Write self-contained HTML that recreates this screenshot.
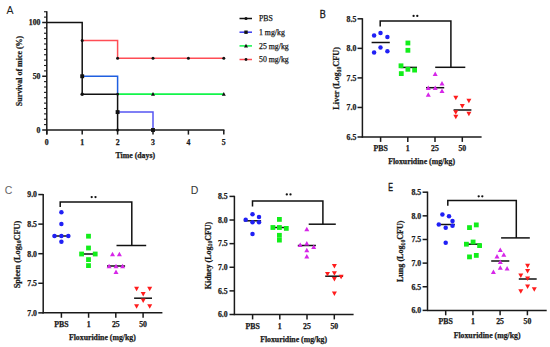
<!DOCTYPE html>
<html><head><meta charset="utf-8"><title>Figure</title>
<style>
html,body{margin:0;padding:0;background:#fff;}
body{width:550px;height:347px;overflow:hidden;font-family:"Liberation Serif",serif;}
svg{display:block;}
</style></head>
<body>
<svg width="550" height="347" viewBox="0 0 550 347">
<rect width="550" height="347" fill="#ffffff"/>
<text x="6.6" y="13.8" font-family="Liberation Sans, sans-serif" font-size="10.5" font-weight="normal" text-anchor="start" fill="#222" >A</text>
<line x1="46.8" y1="11.21" x2="46.8" y2="134.6" stroke="#1a1a1a" stroke-width="1.5" stroke-linecap="butt"/>
<line x1="42.2" y1="130" x2="46.8" y2="130" stroke="#1a1a1a" stroke-width="1.5" stroke-linecap="butt"/>
<line x1="44" y1="124.62" x2="46.8" y2="124.62" stroke="#1a1a1a" stroke-width="1.1" stroke-linecap="butt"/>
<line x1="44" y1="119.25" x2="46.8" y2="119.25" stroke="#1a1a1a" stroke-width="1.1" stroke-linecap="butt"/>
<line x1="44" y1="113.88" x2="46.8" y2="113.88" stroke="#1a1a1a" stroke-width="1.1" stroke-linecap="butt"/>
<line x1="44" y1="108.5" x2="46.8" y2="108.5" stroke="#1a1a1a" stroke-width="1.1" stroke-linecap="butt"/>
<line x1="44" y1="103.12" x2="46.8" y2="103.12" stroke="#1a1a1a" stroke-width="1.1" stroke-linecap="butt"/>
<line x1="44" y1="97.75" x2="46.8" y2="97.75" stroke="#1a1a1a" stroke-width="1.1" stroke-linecap="butt"/>
<line x1="44" y1="92.38" x2="46.8" y2="92.38" stroke="#1a1a1a" stroke-width="1.1" stroke-linecap="butt"/>
<line x1="44" y1="87" x2="46.8" y2="87" stroke="#1a1a1a" stroke-width="1.1" stroke-linecap="butt"/>
<line x1="44" y1="81.62" x2="46.8" y2="81.62" stroke="#1a1a1a" stroke-width="1.1" stroke-linecap="butt"/>
<line x1="42.2" y1="76.25" x2="46.8" y2="76.25" stroke="#1a1a1a" stroke-width="1.5" stroke-linecap="butt"/>
<line x1="44" y1="70.88" x2="46.8" y2="70.88" stroke="#1a1a1a" stroke-width="1.1" stroke-linecap="butt"/>
<line x1="44" y1="65.5" x2="46.8" y2="65.5" stroke="#1a1a1a" stroke-width="1.1" stroke-linecap="butt"/>
<line x1="44" y1="60.12" x2="46.8" y2="60.12" stroke="#1a1a1a" stroke-width="1.1" stroke-linecap="butt"/>
<line x1="44" y1="54.75" x2="46.8" y2="54.75" stroke="#1a1a1a" stroke-width="1.1" stroke-linecap="butt"/>
<line x1="44" y1="49.38" x2="46.8" y2="49.38" stroke="#1a1a1a" stroke-width="1.1" stroke-linecap="butt"/>
<line x1="44" y1="44" x2="46.8" y2="44" stroke="#1a1a1a" stroke-width="1.1" stroke-linecap="butt"/>
<line x1="44" y1="38.62" x2="46.8" y2="38.62" stroke="#1a1a1a" stroke-width="1.1" stroke-linecap="butt"/>
<line x1="44" y1="33.25" x2="46.8" y2="33.25" stroke="#1a1a1a" stroke-width="1.1" stroke-linecap="butt"/>
<line x1="44" y1="27.88" x2="46.8" y2="27.88" stroke="#1a1a1a" stroke-width="1.1" stroke-linecap="butt"/>
<line x1="42.2" y1="22.5" x2="46.8" y2="22.5" stroke="#1a1a1a" stroke-width="1.5" stroke-linecap="butt"/>
<line x1="44" y1="17.12" x2="46.8" y2="17.12" stroke="#1a1a1a" stroke-width="1.1" stroke-linecap="butt"/>
<line x1="44" y1="11.75" x2="46.8" y2="11.75" stroke="#1a1a1a" stroke-width="1.1" stroke-linecap="butt"/>
<line x1="46.8" y1="130" x2="224.4" y2="130" stroke="#1a1a1a" stroke-width="1.5" stroke-linecap="butt"/>
<line x1="46.8" y1="130" x2="46.8" y2="134.6" stroke="#1a1a1a" stroke-width="1.5" stroke-linecap="butt"/>
<text x="46.8" y="144.6" font-family="Liberation Serif, serif" font-size="7.8" font-weight="bold" text-anchor="middle" fill="#1a1a1a" stroke="#1a1a1a" stroke-width="0.25" >0</text>
<line x1="82.2" y1="130" x2="82.2" y2="134.6" stroke="#1a1a1a" stroke-width="1.5" stroke-linecap="butt"/>
<text x="82.2" y="144.6" font-family="Liberation Serif, serif" font-size="7.8" font-weight="bold" text-anchor="middle" fill="#1a1a1a" stroke="#1a1a1a" stroke-width="0.25" >1</text>
<line x1="117.6" y1="130" x2="117.6" y2="134.6" stroke="#1a1a1a" stroke-width="1.5" stroke-linecap="butt"/>
<text x="117.6" y="144.6" font-family="Liberation Serif, serif" font-size="7.8" font-weight="bold" text-anchor="middle" fill="#1a1a1a" stroke="#1a1a1a" stroke-width="0.25" >2</text>
<line x1="153" y1="130" x2="153" y2="134.6" stroke="#1a1a1a" stroke-width="1.5" stroke-linecap="butt"/>
<text x="153" y="144.6" font-family="Liberation Serif, serif" font-size="7.8" font-weight="bold" text-anchor="middle" fill="#1a1a1a" stroke="#1a1a1a" stroke-width="0.25" >3</text>
<line x1="188.4" y1="130" x2="188.4" y2="134.6" stroke="#1a1a1a" stroke-width="1.5" stroke-linecap="butt"/>
<text x="188.4" y="144.6" font-family="Liberation Serif, serif" font-size="7.8" font-weight="bold" text-anchor="middle" fill="#1a1a1a" stroke="#1a1a1a" stroke-width="0.25" >4</text>
<line x1="223.8" y1="130" x2="223.8" y2="134.6" stroke="#1a1a1a" stroke-width="1.5" stroke-linecap="butt"/>
<text x="223.8" y="144.6" font-family="Liberation Serif, serif" font-size="7.8" font-weight="bold" text-anchor="middle" fill="#1a1a1a" stroke="#1a1a1a" stroke-width="0.25" >5</text>
<text x="40.5" y="132.8" font-family="Liberation Serif, serif" font-size="7.8" font-weight="bold" text-anchor="end" fill="#1a1a1a" stroke="#1a1a1a" stroke-width="0.25" >0</text>
<text x="40.5" y="79.05" font-family="Liberation Serif, serif" font-size="7.8" font-weight="bold" text-anchor="end" fill="#1a1a1a" stroke="#1a1a1a" stroke-width="0.25" >50</text>
<text x="40.5" y="25.3" font-family="Liberation Serif, serif" font-size="7.8" font-weight="bold" text-anchor="end" fill="#1a1a1a" stroke="#1a1a1a" stroke-width="0.25" >100</text>
<text x="22.3" y="71" font-family="Liberation Serif, serif" font-size="7.95" font-weight="bold" text-anchor="middle" fill="#1a1a1a" stroke="#1a1a1a" stroke-width="0.25" transform="rotate(-90 22.3 71.0)">Survival of mice (%)</text>
<text x="135.3" y="157.6" font-family="Liberation Serif, serif" font-size="7.8" font-weight="bold" text-anchor="middle" fill="#1a1a1a" stroke="#1a1a1a" stroke-width="0.25" >Time (days)</text>
<polyline points="82.2,40.42 117.6,40.42 117.6,58.33 223.8,58.33" fill="none" stroke="#ff4d55" stroke-width="1.5" stroke-linejoin="miter"/>
<polyline points="117.6,94.17 223.8,94.17" fill="none" stroke="#12f54a" stroke-width="1.6" stroke-linejoin="miter"/>
<polyline points="117.6,112.08 153,112.08 153,130" fill="none" stroke="#5555f2" stroke-width="1.5" stroke-linejoin="miter"/>
<polyline points="82.2,76.25 117.6,76.25 117.6,94.17" fill="none" stroke="#1f5fe0" stroke-width="1.5" stroke-linejoin="miter"/>
<polyline points="46.8,22.5 82.2,22.5 82.2,94.17 117.6,94.17 117.6,130" fill="none" stroke="#111" stroke-width="1.5" stroke-linejoin="miter"/>
<circle cx="82.2" cy="40.42" r="1.5" fill="#111"/>
<circle cx="117.6" cy="58.33" r="1.5" fill="#111"/>
<circle cx="153" cy="58.33" r="1.5" fill="#111"/>
<circle cx="188.4" cy="58.33" r="1.5" fill="#111"/>
<circle cx="223.8" cy="58.33" r="1.5" fill="#111"/>
<rect x="80.25" y="74.3" width="3.9" height="3.9" fill="#111"/>
<rect x="115.65" y="110.13" width="3.9" height="3.9" fill="#111"/>
<rect x="151.05" y="128.05" width="3.9" height="3.9" fill="#111"/>
<circle cx="82.2" cy="94.17" r="1.75" fill="#111"/>
<circle cx="117.6" cy="130" r="1.6" fill="#111"/>
<circle cx="117.6" cy="94.17" r="1.3" fill="#111"/>
<polygon points="151,95.67 155,95.67 153,92.07" fill="#111"/>
<polygon points="221.8,95.67 225.8,95.67 223.8,92.07" fill="#111"/>
<line x1="239.5" y1="18.5" x2="252" y2="18.5" stroke="#111" stroke-width="1.5" stroke-linecap="butt"/>
<text x="259" y="21.1" font-family="Liberation Serif, serif" font-size="7.8" font-weight="normal" text-anchor="start" fill="#1a1a1a" stroke="#1a1a1a" stroke-width="0.25" >PBS</text>
<line x1="239.5" y1="32.2" x2="252" y2="32.2" stroke="#3a3af0" stroke-width="1.5" stroke-linecap="butt"/>
<text x="259" y="34.8" font-family="Liberation Serif, serif" font-size="7.8" font-weight="normal" text-anchor="start" fill="#1a1a1a" stroke="#1a1a1a" stroke-width="0.25" >1 mg/kg</text>
<line x1="239.5" y1="45.9" x2="252" y2="45.9" stroke="#12f54a" stroke-width="1.5" stroke-linecap="butt"/>
<text x="259" y="48.5" font-family="Liberation Serif, serif" font-size="7.8" font-weight="normal" text-anchor="start" fill="#1a1a1a" stroke="#1a1a1a" stroke-width="0.25" >25 mg/kg</text>
<line x1="239.5" y1="59.5" x2="252" y2="59.5" stroke="#ff4d55" stroke-width="1.5" stroke-linecap="butt"/>
<text x="259" y="62.1" font-family="Liberation Serif, serif" font-size="7.8" font-weight="normal" text-anchor="start" fill="#1a1a1a" stroke="#1a1a1a" stroke-width="0.25" >50 mg/kg</text>
<circle cx="246" cy="18.5" r="1.6" fill="#111"/>
<rect x="244.3" y="30.5" width="3.4" height="3.4" fill="#111"/>
<polygon points="244,47.4 248,47.4 246,43.8" fill="#111"/>
<circle cx="246" cy="59.5" r="1.4" fill="#111"/>
<text x="319.8" y="18" font-family="Liberation Sans, sans-serif" font-size="10.5" font-weight="normal" text-anchor="start" fill="#1a1a1a" stroke="#1a1a1a" stroke-width="0.35" textLength="6.0" lengthAdjust="spacingAndGlyphs">B</text>
<line x1="362.4" y1="18.2" x2="362.4" y2="137.6" stroke="#1a1a1a" stroke-width="1.5" stroke-linecap="butt"/>
<line x1="357.5" y1="137" x2="362.4" y2="137" stroke="#1a1a1a" stroke-width="1.5" stroke-linecap="butt"/>
<text x="356.3" y="139.8" font-family="Liberation Serif, serif" font-size="7.8" font-weight="bold" text-anchor="end" fill="#1a1a1a" stroke="#1a1a1a" stroke-width="0.25" >6.5</text>
<line x1="357.5" y1="107.45" x2="362.4" y2="107.45" stroke="#1a1a1a" stroke-width="1.5" stroke-linecap="butt"/>
<text x="356.3" y="110.25" font-family="Liberation Serif, serif" font-size="7.8" font-weight="bold" text-anchor="end" fill="#1a1a1a" stroke="#1a1a1a" stroke-width="0.25" >7.0</text>
<line x1="357.5" y1="77.9" x2="362.4" y2="77.9" stroke="#1a1a1a" stroke-width="1.5" stroke-linecap="butt"/>
<text x="356.3" y="80.7" font-family="Liberation Serif, serif" font-size="7.8" font-weight="bold" text-anchor="end" fill="#1a1a1a" stroke="#1a1a1a" stroke-width="0.25" >7.5</text>
<line x1="357.5" y1="48.35" x2="362.4" y2="48.35" stroke="#1a1a1a" stroke-width="1.5" stroke-linecap="butt"/>
<text x="356.3" y="51.15" font-family="Liberation Serif, serif" font-size="7.8" font-weight="bold" text-anchor="end" fill="#1a1a1a" stroke="#1a1a1a" stroke-width="0.25" >8.0</text>
<line x1="357.5" y1="18.8" x2="362.4" y2="18.8" stroke="#1a1a1a" stroke-width="1.5" stroke-linecap="butt"/>
<text x="356.3" y="21.6" font-family="Liberation Serif, serif" font-size="7.8" font-weight="bold" text-anchor="end" fill="#1a1a1a" stroke="#1a1a1a" stroke-width="0.25" >8.5</text>
<line x1="361.8" y1="137" x2="481.6" y2="137" stroke="#1a1a1a" stroke-width="1.5" stroke-linecap="butt"/>
<line x1="380.6" y1="137" x2="380.6" y2="141.9" stroke="#1a1a1a" stroke-width="1.5" stroke-linecap="butt"/>
<text x="380.6" y="150.6" font-family="Liberation Serif, serif" font-size="7.8" font-weight="bold" text-anchor="middle" fill="#1a1a1a" stroke="#1a1a1a" stroke-width="0.25" >PBS</text>
<line x1="407.8" y1="137" x2="407.8" y2="141.9" stroke="#1a1a1a" stroke-width="1.5" stroke-linecap="butt"/>
<text x="407.8" y="150.6" font-family="Liberation Serif, serif" font-size="7.8" font-weight="bold" text-anchor="middle" fill="#1a1a1a" stroke="#1a1a1a" stroke-width="0.25" >1</text>
<line x1="435" y1="137" x2="435" y2="141.9" stroke="#1a1a1a" stroke-width="1.5" stroke-linecap="butt"/>
<text x="435" y="150.6" font-family="Liberation Serif, serif" font-size="7.8" font-weight="bold" text-anchor="middle" fill="#1a1a1a" stroke="#1a1a1a" stroke-width="0.25" >25</text>
<line x1="462.3" y1="137" x2="462.3" y2="141.9" stroke="#1a1a1a" stroke-width="1.5" stroke-linecap="butt"/>
<text x="462.3" y="150.6" font-family="Liberation Serif, serif" font-size="7.8" font-weight="bold" text-anchor="middle" fill="#1a1a1a" stroke="#1a1a1a" stroke-width="0.25" >50</text>
<text x="421.6" y="163.6" font-family="Liberation Serif, serif" font-size="7.8" font-weight="bold" text-anchor="middle" fill="#1a1a1a" stroke="#1a1a1a" stroke-width="0.25" >Floxuridine (mg/kg)</text>
<text x="338.9" y="78.35" font-family="Liberation Serif, serif" font-size="8.2" font-weight="bold" text-anchor="middle" fill="#1a1a1a" stroke="#1a1a1a" stroke-width="0.25" transform="rotate(-90 338.9 78.35)">Liver (Log<tspan font-size="5.66" dy="1.64">10</tspan><tspan dy="-1.64">CFU)</tspan></text>
<line x1="371.6" y1="42.5" x2="389.8" y2="42.5" stroke="#111" stroke-width="1.5" stroke-linecap="butt"/>
<line x1="400.5" y1="67.4" x2="417" y2="67.4" stroke="#111" stroke-width="1.5" stroke-linecap="butt"/>
<line x1="426" y1="87.7" x2="444.2" y2="87.7" stroke="#111" stroke-width="1.5" stroke-linecap="butt"/>
<line x1="453.6" y1="110" x2="471.4" y2="110" stroke="#111" stroke-width="1.5" stroke-linecap="butt"/>
<circle cx="374.1" cy="35.4" r="2.25" fill="#2020f5"/>
<circle cx="380.5" cy="33" r="2.25" fill="#2020f5"/>
<circle cx="387.4" cy="37" r="2.25" fill="#2020f5"/>
<circle cx="380.5" cy="47.5" r="2.25" fill="#2020f5"/>
<circle cx="374.1" cy="52.4" r="2.25" fill="#2020f5"/>
<circle cx="387.4" cy="51.3" r="2.25" fill="#2020f5"/>
<rect x="405.5" y="40.6" width="4.8" height="4.8" fill="#12ee1a"/>
<rect x="405.5" y="47.9" width="4.8" height="4.8" fill="#12ee1a"/>
<rect x="398.6" y="63.4" width="4.8" height="4.8" fill="#12ee1a"/>
<rect x="405.5" y="66.9" width="4.8" height="4.8" fill="#12ee1a"/>
<rect x="412.2" y="67.7" width="4.8" height="4.8" fill="#12ee1a"/>
<rect x="398.9" y="71.2" width="4.8" height="4.8" fill="#12ee1a"/>
<polygon points="432.7,76.05 437.7,76.05 435.2,71.55" fill="#d626e8"/>
<polygon points="439.5,85.55 444.5,85.55 442,81.05" fill="#d626e8"/>
<polygon points="425.8,89.95 430.8,89.95 428.3,85.45" fill="#d626e8"/>
<polygon points="432.7,89.95 437.7,89.95 435.2,85.45" fill="#d626e8"/>
<polygon points="439.5,93.05 444.5,93.05 442,88.55" fill="#d626e8"/>
<polygon points="425.8,96.85 430.8,96.85 428.3,92.35" fill="#d626e8"/>
<polygon points="453.3,95.85 458.3,95.85 455.8,100.35" fill="#ff1c1c"/>
<polygon points="466.4,98.85 471.4,98.85 468.9,103.35" fill="#ff1c1c"/>
<polygon points="459.8,104.05 464.8,104.05 462.3,108.55" fill="#ff1c1c"/>
<polygon points="453.3,110.15 458.3,110.15 455.8,114.65" fill="#ff1c1c"/>
<polygon points="466.4,111.65 471.4,111.65 468.9,116.15" fill="#ff1c1c"/>
<polygon points="453.3,114.75 458.3,114.75 455.8,119.25" fill="#ff1c1c"/>
<polyline points="380.2,26.6 380.2,21 450.9,21 450.9,67.3" fill="none" stroke="#111" stroke-width="1.5" stroke-linejoin="miter"/>
<line x1="435.2" y1="67.3" x2="465.3" y2="67.3" stroke="#111" stroke-width="1.5" stroke-linecap="butt"/>
<circle cx="413.6" cy="15.9" r="1.15" fill="#111"/>
<circle cx="417.3" cy="15.9" r="1.15" fill="#111"/>
<text x="4.8" y="193.9" font-family="Liberation Sans, sans-serif" font-size="10.5" font-weight="normal" text-anchor="start" fill="#666" >C</text>
<line x1="43.2" y1="193.95" x2="43.2" y2="313.45" stroke="#1a1a1a" stroke-width="1.5" stroke-linecap="butt"/>
<line x1="38.3" y1="312.85" x2="43.2" y2="312.85" stroke="#1a1a1a" stroke-width="1.5" stroke-linecap="butt"/>
<text x="37" y="315.65" font-family="Liberation Serif, serif" font-size="7.8" font-weight="bold" text-anchor="end" fill="#1a1a1a" stroke="#1a1a1a" stroke-width="0.25" >7.0</text>
<line x1="38.3" y1="283.28" x2="43.2" y2="283.28" stroke="#1a1a1a" stroke-width="1.5" stroke-linecap="butt"/>
<text x="37" y="286.08" font-family="Liberation Serif, serif" font-size="7.8" font-weight="bold" text-anchor="end" fill="#1a1a1a" stroke="#1a1a1a" stroke-width="0.25" >7.5</text>
<line x1="38.3" y1="253.7" x2="43.2" y2="253.7" stroke="#1a1a1a" stroke-width="1.5" stroke-linecap="butt"/>
<text x="37" y="256.5" font-family="Liberation Serif, serif" font-size="7.8" font-weight="bold" text-anchor="end" fill="#1a1a1a" stroke="#1a1a1a" stroke-width="0.25" >8.0</text>
<line x1="38.3" y1="224.12" x2="43.2" y2="224.12" stroke="#1a1a1a" stroke-width="1.5" stroke-linecap="butt"/>
<text x="37" y="226.93" font-family="Liberation Serif, serif" font-size="7.8" font-weight="bold" text-anchor="end" fill="#1a1a1a" stroke="#1a1a1a" stroke-width="0.25" >8.5</text>
<line x1="38.3" y1="194.55" x2="43.2" y2="194.55" stroke="#1a1a1a" stroke-width="1.5" stroke-linecap="butt"/>
<text x="37" y="197.35" font-family="Liberation Serif, serif" font-size="7.8" font-weight="bold" text-anchor="end" fill="#1a1a1a" stroke="#1a1a1a" stroke-width="0.25" >9.0</text>
<line x1="42.6" y1="312.85" x2="162.4" y2="312.85" stroke="#1a1a1a" stroke-width="1.5" stroke-linecap="butt"/>
<line x1="61.4" y1="312.85" x2="61.4" y2="317.75" stroke="#1a1a1a" stroke-width="1.5" stroke-linecap="butt"/>
<text x="61.4" y="326.5" font-family="Liberation Serif, serif" font-size="7.8" font-weight="bold" text-anchor="middle" fill="#1a1a1a" stroke="#1a1a1a" stroke-width="0.25" >PBS</text>
<line x1="88.6" y1="312.85" x2="88.6" y2="317.75" stroke="#1a1a1a" stroke-width="1.5" stroke-linecap="butt"/>
<text x="88.6" y="326.5" font-family="Liberation Serif, serif" font-size="7.8" font-weight="bold" text-anchor="middle" fill="#1a1a1a" stroke="#1a1a1a" stroke-width="0.25" >1</text>
<line x1="115.8" y1="312.85" x2="115.8" y2="317.75" stroke="#1a1a1a" stroke-width="1.5" stroke-linecap="butt"/>
<text x="115.8" y="326.5" font-family="Liberation Serif, serif" font-size="7.8" font-weight="bold" text-anchor="middle" fill="#1a1a1a" stroke="#1a1a1a" stroke-width="0.25" >25</text>
<line x1="143.1" y1="312.85" x2="143.1" y2="317.75" stroke="#1a1a1a" stroke-width="1.5" stroke-linecap="butt"/>
<text x="143.1" y="326.5" font-family="Liberation Serif, serif" font-size="7.8" font-weight="bold" text-anchor="middle" fill="#1a1a1a" stroke="#1a1a1a" stroke-width="0.25" >50</text>
<text x="102.4" y="340.4" font-family="Liberation Serif, serif" font-size="7.8" font-weight="bold" text-anchor="middle" fill="#1a1a1a" stroke="#1a1a1a" stroke-width="0.25" >Floxuridine (mg/kg)</text>
<text x="19.7" y="254.5" font-family="Liberation Serif, serif" font-size="8.3" font-weight="bold" text-anchor="middle" fill="#1a1a1a" stroke="#1a1a1a" stroke-width="0.25" transform="rotate(-90 19.7 254.5)">Spleen (Log<tspan font-size="5.73" dy="1.66">10</tspan><tspan dy="-1.66">CFU)</tspan></text>
<line x1="52.8" y1="236" x2="70.1" y2="236" stroke="#111" stroke-width="1.5" stroke-linecap="butt"/>
<line x1="81" y1="254" x2="96" y2="254" stroke="#111" stroke-width="1.5" stroke-linecap="butt"/>
<line x1="107" y1="266" x2="125.1" y2="266" stroke="#111" stroke-width="1.5" stroke-linecap="butt"/>
<line x1="134.1" y1="298.2" x2="152" y2="298.2" stroke="#111" stroke-width="1.5" stroke-linecap="butt"/>
<circle cx="61.4" cy="212.3" r="2.25" fill="#2020f5"/>
<circle cx="61.4" cy="224" r="2.25" fill="#2020f5"/>
<circle cx="54.5" cy="236" r="2.25" fill="#2020f5"/>
<circle cx="61.4" cy="236" r="2.25" fill="#2020f5"/>
<circle cx="68.3" cy="236" r="2.25" fill="#2020f5"/>
<circle cx="61.4" cy="241.7" r="2.25" fill="#2020f5"/>
<rect x="86.1" y="233.8" width="4.8" height="4.8" fill="#12ee1a"/>
<rect x="86.1" y="245.6" width="4.8" height="4.8" fill="#12ee1a"/>
<rect x="79.2" y="251.6" width="4.8" height="4.8" fill="#12ee1a"/>
<rect x="92.8" y="251.6" width="4.8" height="4.8" fill="#12ee1a"/>
<rect x="86.1" y="257.2" width="4.8" height="4.8" fill="#12ee1a"/>
<rect x="86.1" y="263.2" width="4.8" height="4.8" fill="#12ee1a"/>
<polygon points="110,256.25 115,256.25 112.5,251.75" fill="#d626e8"/>
<polygon points="116.9,256.25 121.9,256.25 119.4,251.75" fill="#d626e8"/>
<polygon points="106.6,268.25 111.6,268.25 109.1,263.75" fill="#d626e8"/>
<polygon points="113.5,268.25 118.5,268.25 116,263.75" fill="#d626e8"/>
<polygon points="120.1,268.25 125.1,268.25 122.6,263.75" fill="#d626e8"/>
<polygon points="113.5,273.95 118.5,273.95 116,269.45" fill="#d626e8"/>
<polygon points="134.1,286.65 139.1,286.65 136.6,291.15" fill="#ff1c1c"/>
<polygon points="147.2,286.65 152.2,286.65 149.7,291.15" fill="#ff1c1c"/>
<polygon points="140.7,292.05 145.7,292.05 143.2,296.55" fill="#ff1c1c"/>
<polygon points="140.7,298.45 145.7,298.45 143.2,302.95" fill="#ff1c1c"/>
<polygon points="134.1,304.15 139.1,304.15 136.6,308.65" fill="#ff1c1c"/>
<polygon points="147.2,304.15 152.2,304.15 149.7,308.65" fill="#ff1c1c"/>
<polyline points="60.2,207.1 60.2,201.9 131.8,201.9 131.8,245.5" fill="none" stroke="#111" stroke-width="1.5" stroke-linejoin="miter"/>
<line x1="116.5" y1="245.5" x2="146.2" y2="245.5" stroke="#111" stroke-width="1.5" stroke-linecap="butt"/>
<circle cx="91.7" cy="197.1" r="1.15" fill="#111"/>
<circle cx="95.5" cy="197.1" r="1.15" fill="#111"/>
<text x="190.8" y="194.3" font-family="Liberation Sans, sans-serif" font-size="10.5" font-weight="normal" text-anchor="start" fill="#333" >D</text>
<line x1="234.4" y1="195.8" x2="234.4" y2="315.1" stroke="#1a1a1a" stroke-width="1.5" stroke-linecap="butt"/>
<line x1="229.5" y1="314.5" x2="234.4" y2="314.5" stroke="#1a1a1a" stroke-width="1.5" stroke-linecap="butt"/>
<text x="227.7" y="317.3" font-family="Liberation Serif, serif" font-size="7.8" font-weight="bold" text-anchor="end" fill="#1a1a1a" stroke="#1a1a1a" stroke-width="0.25" >6.0</text>
<line x1="229.5" y1="290.88" x2="234.4" y2="290.88" stroke="#1a1a1a" stroke-width="1.5" stroke-linecap="butt"/>
<text x="227.7" y="293.68" font-family="Liberation Serif, serif" font-size="7.8" font-weight="bold" text-anchor="end" fill="#1a1a1a" stroke="#1a1a1a" stroke-width="0.25" >6.5</text>
<line x1="229.5" y1="267.26" x2="234.4" y2="267.26" stroke="#1a1a1a" stroke-width="1.5" stroke-linecap="butt"/>
<text x="227.7" y="270.06" font-family="Liberation Serif, serif" font-size="7.8" font-weight="bold" text-anchor="end" fill="#1a1a1a" stroke="#1a1a1a" stroke-width="0.25" >7.0</text>
<line x1="229.5" y1="243.64" x2="234.4" y2="243.64" stroke="#1a1a1a" stroke-width="1.5" stroke-linecap="butt"/>
<text x="227.7" y="246.44" font-family="Liberation Serif, serif" font-size="7.8" font-weight="bold" text-anchor="end" fill="#1a1a1a" stroke="#1a1a1a" stroke-width="0.25" >7.5</text>
<line x1="229.5" y1="220.02" x2="234.4" y2="220.02" stroke="#1a1a1a" stroke-width="1.5" stroke-linecap="butt"/>
<text x="227.7" y="222.82" font-family="Liberation Serif, serif" font-size="7.8" font-weight="bold" text-anchor="end" fill="#1a1a1a" stroke="#1a1a1a" stroke-width="0.25" >8.0</text>
<line x1="229.5" y1="196.4" x2="234.4" y2="196.4" stroke="#1a1a1a" stroke-width="1.5" stroke-linecap="butt"/>
<text x="227.7" y="199.2" font-family="Liberation Serif, serif" font-size="7.8" font-weight="bold" text-anchor="end" fill="#1a1a1a" stroke="#1a1a1a" stroke-width="0.25" >8.5</text>
<line x1="233.8" y1="314.5" x2="353.6" y2="314.5" stroke="#1a1a1a" stroke-width="1.5" stroke-linecap="butt"/>
<line x1="252.6" y1="314.5" x2="252.6" y2="319.4" stroke="#1a1a1a" stroke-width="1.5" stroke-linecap="butt"/>
<text x="252.6" y="328.5" font-family="Liberation Serif, serif" font-size="7.8" font-weight="bold" text-anchor="middle" fill="#1a1a1a" stroke="#1a1a1a" stroke-width="0.25" >PBS</text>
<line x1="279.8" y1="314.5" x2="279.8" y2="319.4" stroke="#1a1a1a" stroke-width="1.5" stroke-linecap="butt"/>
<text x="279.8" y="328.5" font-family="Liberation Serif, serif" font-size="7.8" font-weight="bold" text-anchor="middle" fill="#1a1a1a" stroke="#1a1a1a" stroke-width="0.25" >1</text>
<line x1="307" y1="314.5" x2="307" y2="319.4" stroke="#1a1a1a" stroke-width="1.5" stroke-linecap="butt"/>
<text x="307" y="328.5" font-family="Liberation Serif, serif" font-size="7.8" font-weight="bold" text-anchor="middle" fill="#1a1a1a" stroke="#1a1a1a" stroke-width="0.25" >25</text>
<line x1="334.3" y1="314.5" x2="334.3" y2="319.4" stroke="#1a1a1a" stroke-width="1.5" stroke-linecap="butt"/>
<text x="334.3" y="328.5" font-family="Liberation Serif, serif" font-size="7.8" font-weight="bold" text-anchor="middle" fill="#1a1a1a" stroke="#1a1a1a" stroke-width="0.25" >50</text>
<text x="293.6" y="341.8" font-family="Liberation Serif, serif" font-size="7.8" font-weight="bold" text-anchor="middle" fill="#1a1a1a" stroke="#1a1a1a" stroke-width="0.25" >Floxuridine (mg/kg)</text>
<text x="210.9" y="255.5" font-family="Liberation Serif, serif" font-size="8.0" font-weight="bold" text-anchor="middle" fill="#1a1a1a" stroke="#1a1a1a" stroke-width="0.25" transform="rotate(-90 210.9 255.5)">Kidney (Log<tspan font-size="5.52" dy="1.6">10</tspan><tspan dy="-1.6">CFU)</tspan></text>
<line x1="243.8" y1="220.8" x2="261.1" y2="220.8" stroke="#111" stroke-width="1.5" stroke-linecap="butt"/>
<line x1="271" y1="227.5" x2="288" y2="227.5" stroke="#111" stroke-width="1.5" stroke-linecap="butt"/>
<line x1="297.8" y1="245.5" x2="315.9" y2="245.5" stroke="#111" stroke-width="1.5" stroke-linecap="butt"/>
<line x1="325.2" y1="276.2" x2="343.1" y2="276.2" stroke="#111" stroke-width="1.5" stroke-linecap="butt"/>
<circle cx="252.5" cy="214.2" r="2.25" fill="#2020f5"/>
<circle cx="259" cy="217.1" r="2.25" fill="#2020f5"/>
<circle cx="245.7" cy="219.7" r="2.25" fill="#2020f5"/>
<circle cx="252.5" cy="222.3" r="2.25" fill="#2020f5"/>
<circle cx="259" cy="222.3" r="2.25" fill="#2020f5"/>
<circle cx="252.5" cy="234.1" r="2.25" fill="#2020f5"/>
<rect x="277" y="217" width="4.8" height="4.8" fill="#12ee1a"/>
<rect x="270.5" y="225.1" width="4.8" height="4.8" fill="#12ee1a"/>
<rect x="277" y="225.1" width="4.8" height="4.8" fill="#12ee1a"/>
<rect x="283.9" y="226" width="4.8" height="4.8" fill="#12ee1a"/>
<rect x="277" y="232.9" width="4.8" height="4.8" fill="#12ee1a"/>
<rect x="277" y="237.7" width="4.8" height="4.8" fill="#12ee1a"/>
<polygon points="304.3,231.25 309.3,231.25 306.8,226.75" fill="#d626e8"/>
<polygon points="297.7,246.95 302.7,246.95 300.2,242.45" fill="#d626e8"/>
<polygon points="304.3,245.45 309.3,245.45 306.8,240.95" fill="#d626e8"/>
<polygon points="311.2,248.95 316.2,248.95 313.7,244.45" fill="#d626e8"/>
<polygon points="304.3,252.35 309.3,252.35 306.8,247.85" fill="#d626e8"/>
<polygon points="304.3,258.45 309.3,258.45 306.8,253.95" fill="#d626e8"/>
<polygon points="331.9,264.05 336.9,264.05 334.4,268.55" fill="#ff1c1c"/>
<polygon points="325,271.95 330,271.95 327.5,276.45" fill="#ff1c1c"/>
<polygon points="331.9,271.35 336.9,271.35 334.4,275.85" fill="#ff1c1c"/>
<polygon points="338.6,274.75 343.6,274.75 341.1,279.25" fill="#ff1c1c"/>
<polygon points="331.9,277.05 336.9,277.05 334.4,281.55" fill="#ff1c1c"/>
<polygon points="331.9,291.55 336.9,291.55 334.4,296.05" fill="#ff1c1c"/>
<polyline points="252.5,206.4 252.5,200.9 322.9,200.9 322.9,224.2" fill="none" stroke="#111" stroke-width="1.5" stroke-linejoin="miter"/>
<line x1="308.7" y1="224.2" x2="335.8" y2="224.2" stroke="#111" stroke-width="1.5" stroke-linecap="butt"/>
<circle cx="286.8" cy="194.4" r="1.15" fill="#111"/>
<circle cx="290.5" cy="194.4" r="1.15" fill="#111"/>
<text x="388.3" y="190.8" font-family="Liberation Sans, sans-serif" font-size="10.5" font-weight="normal" text-anchor="start" fill="#1a1a1a" stroke="#1a1a1a" stroke-width="0.45" textLength="4.7" lengthAdjust="spacingAndGlyphs">E</text>
<line x1="427.5" y1="191.6" x2="427.5" y2="311" stroke="#1a1a1a" stroke-width="1.5" stroke-linecap="butt"/>
<line x1="422.6" y1="310.4" x2="427.5" y2="310.4" stroke="#1a1a1a" stroke-width="1.5" stroke-linecap="butt"/>
<text x="421.2" y="313.2" font-family="Liberation Serif, serif" font-size="7.8" font-weight="bold" text-anchor="end" fill="#1a1a1a" stroke="#1a1a1a" stroke-width="0.25" >6.0</text>
<line x1="422.6" y1="286.76" x2="427.5" y2="286.76" stroke="#1a1a1a" stroke-width="1.5" stroke-linecap="butt"/>
<text x="421.2" y="289.56" font-family="Liberation Serif, serif" font-size="7.8" font-weight="bold" text-anchor="end" fill="#1a1a1a" stroke="#1a1a1a" stroke-width="0.25" >6.5</text>
<line x1="422.6" y1="263.12" x2="427.5" y2="263.12" stroke="#1a1a1a" stroke-width="1.5" stroke-linecap="butt"/>
<text x="421.2" y="265.92" font-family="Liberation Serif, serif" font-size="7.8" font-weight="bold" text-anchor="end" fill="#1a1a1a" stroke="#1a1a1a" stroke-width="0.25" >7.0</text>
<line x1="422.6" y1="239.48" x2="427.5" y2="239.48" stroke="#1a1a1a" stroke-width="1.5" stroke-linecap="butt"/>
<text x="421.2" y="242.28" font-family="Liberation Serif, serif" font-size="7.8" font-weight="bold" text-anchor="end" fill="#1a1a1a" stroke="#1a1a1a" stroke-width="0.25" >7.5</text>
<line x1="422.6" y1="215.84" x2="427.5" y2="215.84" stroke="#1a1a1a" stroke-width="1.5" stroke-linecap="butt"/>
<text x="421.2" y="218.64" font-family="Liberation Serif, serif" font-size="7.8" font-weight="bold" text-anchor="end" fill="#1a1a1a" stroke="#1a1a1a" stroke-width="0.25" >8.0</text>
<line x1="422.6" y1="192.2" x2="427.5" y2="192.2" stroke="#1a1a1a" stroke-width="1.5" stroke-linecap="butt"/>
<text x="421.2" y="195" font-family="Liberation Serif, serif" font-size="7.8" font-weight="bold" text-anchor="end" fill="#1a1a1a" stroke="#1a1a1a" stroke-width="0.25" >8.5</text>
<line x1="426.9" y1="310.4" x2="546.7" y2="310.4" stroke="#1a1a1a" stroke-width="1.5" stroke-linecap="butt"/>
<line x1="445.7" y1="310.4" x2="445.7" y2="315.3" stroke="#1a1a1a" stroke-width="1.5" stroke-linecap="butt"/>
<text x="445.7" y="324.2" font-family="Liberation Serif, serif" font-size="7.8" font-weight="bold" text-anchor="middle" fill="#1a1a1a" stroke="#1a1a1a" stroke-width="0.25" >PBS</text>
<line x1="472.9" y1="310.4" x2="472.9" y2="315.3" stroke="#1a1a1a" stroke-width="1.5" stroke-linecap="butt"/>
<text x="472.9" y="324.2" font-family="Liberation Serif, serif" font-size="7.8" font-weight="bold" text-anchor="middle" fill="#1a1a1a" stroke="#1a1a1a" stroke-width="0.25" >1</text>
<line x1="500.1" y1="310.4" x2="500.1" y2="315.3" stroke="#1a1a1a" stroke-width="1.5" stroke-linecap="butt"/>
<text x="500.1" y="324.2" font-family="Liberation Serif, serif" font-size="7.8" font-weight="bold" text-anchor="middle" fill="#1a1a1a" stroke="#1a1a1a" stroke-width="0.25" >25</text>
<line x1="527.4" y1="310.4" x2="527.4" y2="315.3" stroke="#1a1a1a" stroke-width="1.5" stroke-linecap="butt"/>
<text x="527.4" y="324.2" font-family="Liberation Serif, serif" font-size="7.8" font-weight="bold" text-anchor="middle" fill="#1a1a1a" stroke="#1a1a1a" stroke-width="0.25" >50</text>
<text x="487.1" y="337.8" font-family="Liberation Serif, serif" font-size="7.8" font-weight="bold" text-anchor="middle" fill="#1a1a1a" stroke="#1a1a1a" stroke-width="0.25" >Floxuridine (mg/kg)</text>
<text x="403.2" y="251.25" font-family="Liberation Serif, serif" font-size="8.1" font-weight="bold" text-anchor="middle" fill="#1a1a1a" stroke="#1a1a1a" stroke-width="0.25" transform="rotate(-90 403.2 251.25)">Lung (Log<tspan font-size="5.59" dy="1.62">10</tspan><tspan dy="-1.62">CFU)</tspan></text>
<line x1="438.8" y1="224.5" x2="454.8" y2="224.5" stroke="#111" stroke-width="1.5" stroke-linecap="butt"/>
<line x1="466" y1="244.2" x2="481" y2="244.2" stroke="#111" stroke-width="1.5" stroke-linecap="butt"/>
<line x1="491.2" y1="261" x2="509.3" y2="261" stroke="#111" stroke-width="1.5" stroke-linecap="butt"/>
<line x1="518.8" y1="279" x2="536.7" y2="279" stroke="#111" stroke-width="1.5" stroke-linecap="butt"/>
<circle cx="442.4" cy="214.4" r="2.25" fill="#2020f5"/>
<circle cx="449" cy="216.3" r="2.25" fill="#2020f5"/>
<circle cx="452.5" cy="221" r="2.25" fill="#2020f5"/>
<circle cx="438.8" cy="224.5" r="2.25" fill="#2020f5"/>
<circle cx="452.5" cy="225.8" r="2.25" fill="#2020f5"/>
<circle cx="445.7" cy="227.7" r="2.25" fill="#2020f5"/>
<circle cx="445.7" cy="242.7" r="2.25" fill="#2020f5"/>
<rect x="467.1" y="225.2" width="4.8" height="4.8" fill="#12ee1a"/>
<rect x="473.9" y="222.5" width="4.8" height="4.8" fill="#12ee1a"/>
<rect x="464" y="241.8" width="4.8" height="4.8" fill="#12ee1a"/>
<rect x="470.7" y="239.6" width="4.8" height="4.8" fill="#12ee1a"/>
<rect x="477.2" y="243.2" width="4.8" height="4.8" fill="#12ee1a"/>
<rect x="467.1" y="254.5" width="4.8" height="4.8" fill="#12ee1a"/>
<rect x="473.9" y="253" width="4.8" height="4.8" fill="#12ee1a"/>
<polygon points="497.8,251.95 502.8,251.95 500.3,247.45" fill="#d626e8"/>
<polygon points="501.3,256.75 506.3,256.75 503.8,252.25" fill="#d626e8"/>
<polygon points="494.5,258.45 499.5,258.45 497,253.95" fill="#d626e8"/>
<polygon points="497.8,264.05 502.8,264.05 500.3,259.55" fill="#d626e8"/>
<polygon points="497.8,269.75 502.8,269.75 500.3,265.25" fill="#d626e8"/>
<polygon points="504.6,270.55 509.6,270.55 507.1,266.05" fill="#d626e8"/>
<polygon points="490.9,274.05 495.9,274.05 493.4,269.55" fill="#d626e8"/>
<polygon points="525.1,263.75 530.1,263.75 527.6,268.25" fill="#ff1c1c"/>
<polygon points="525.1,268.95 530.1,268.95 527.6,273.45" fill="#ff1c1c"/>
<polygon points="518.3,273.55 523.3,273.55 520.8,278.05" fill="#ff1c1c"/>
<polygon points="525.1,276.55 530.1,276.55 527.6,281.05" fill="#ff1c1c"/>
<polygon points="525.1,284.55 530.1,284.55 527.6,289.05" fill="#ff1c1c"/>
<polygon points="531.8,287.15 536.8,287.15 534.3,291.65" fill="#ff1c1c"/>
<polygon points="518.3,289.15 523.3,289.15 520.8,293.65" fill="#ff1c1c"/>
<polyline points="447.8,205.8 447.8,200.6 516.3,200.6 516.3,237.9" fill="none" stroke="#111" stroke-width="1.5" stroke-linejoin="miter"/>
<line x1="501.1" y1="237.9" x2="529.8" y2="237.9" stroke="#111" stroke-width="1.5" stroke-linecap="butt"/>
<circle cx="478.7" cy="196.3" r="1.15" fill="#111"/>
<circle cx="482.3" cy="196.3" r="1.15" fill="#111"/>
</svg>
</body></html>
